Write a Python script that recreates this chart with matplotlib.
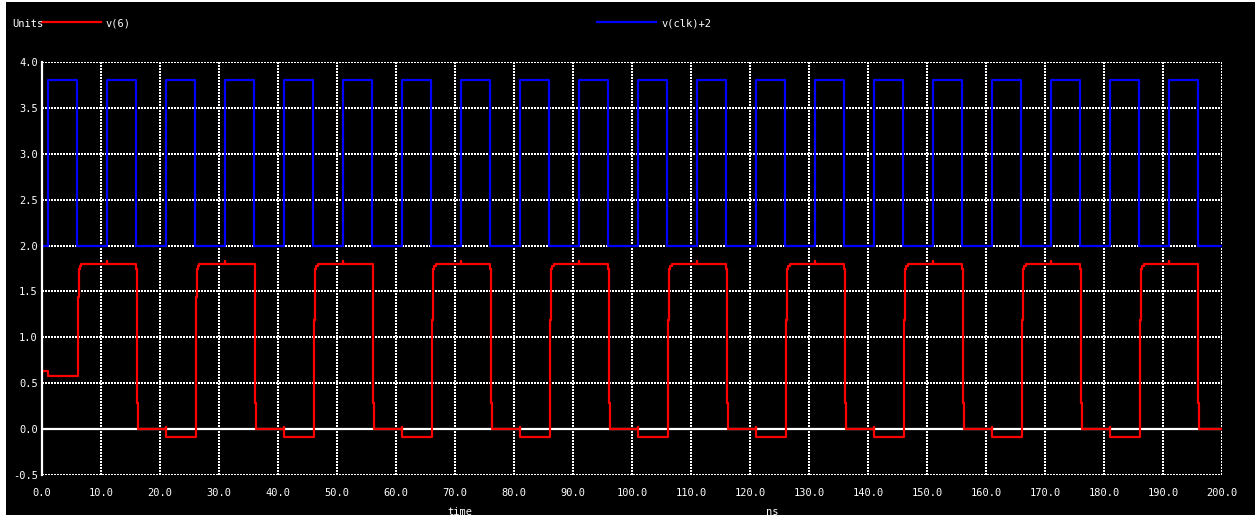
import matplotlib
matplotlib.use('Agg')
import matplotlib.pyplot as plt
from matplotlib.lines import Line2D
from matplotlib.patches import Rectangle

# clock v(clk)+2 : edge times in ns
clk_rise = [1, 11, 21, 31, 41, 51, 61, 71, 81, 91,
            101, 111, 121, 131, 141, 151, 161, 171, 181, 191]
clk_fall = [6, 16, 26, 36, 46, 56, 66, 76, 86, 96,
            106, 116, 126, 136, 146, 156, 166, 176, 186, 196]
clk_lo, clk_hi = 2.0, 3.8

# v(6) : divided output, edge times in ns
v6_rise = [6.05, 26.05, 46.1, 66.1, 86.1, 106.1, 126.1, 146.1, 166.1, 186.1]
v6_fall = [16.0, 36.05, 56.05, 76.0, 96.0, 116.0, 136.0, 156.0, 176.0, 195.9]
v6_start = [0.63, 0.58]
v6_hi = 1.80
v6_lo = [0.0, -0.09]
# shape of the edges (offset ns, value)
rise_dt = [0.0, 0.1, 0.2, 0.25, 0.35, 0.6]
rise_v = [1.19, 1.44, 1.62, 1.74, 1.78, 1.80]
fall_dt = [0.0, 0.05, 0.2]
fall_v = [1.75, 0.28, 0.0]

t_end = 200.0
xticks = [0, 10, 20, 30, 40, 50, 60, 70, 80, 90, 100,
          110, 120, 130, 140, 150, 160, 170, 180, 190, 200]
yticks = [-0.5, 0.0, 0.5, 1.0, 1.5, 2.0, 2.5, 3.0, 3.5, 4.0]

# build step waveforms
clk_ev = [(0.0, clk_lo)] + [(t, clk_hi) for t in clk_rise] + [(t, clk_lo) for t in clk_fall]
clk_ev.sort()
clk_ev.append((t_end, clk_ev[-1][1]))

v6_ev = [(0.0, v6_start[0]), (clk_rise[0], v6_start[1])]
for r in v6_rise:
    v6_ev += [(r + d, v) for d, v in zip(rise_dt, rise_v)]
for f in v6_fall:
    v6_ev += [(f + d, v) for d, v in zip(fall_dt, fall_v)]
edges = sorted([(t, 1) for t in v6_rise] + [(t, 0) for t in v6_fall])
for c in clk_rise[1:]:
    prev = [s for t, s in edges if t < c]
    if prev and prev[-1] == 1:
        v6_ev += [(c, 1.83), (c + 0.08, v6_hi)]
    elif prev:
        v6_ev += [(c, 0.02), (c + 0.05, v6_lo[1])]
v6_ev.sort()
v6_ev.append((t_end, v6_ev[-1][1]))

W, H = 1255, 515
fig = plt.figure(figsize=(W / 100, H / 100), dpi=100, facecolor='black')
ax = fig.add_axes([42 / W, 1 - 475 / H, 1180 / W, 413 / H], facecolor='black')

mono = 'DejaVu Sans Mono'
dot = dict(color='white', lw=1.1, linestyle=(0, (1.0, 1.2)),
           antialiased=False, zorder=1)
for y in yticks:
    if y == 0.0:
        ax.axhline(y, color='white', lw=1.6, zorder=2)
    else:
        ax.axhline(y, **dot)
for x in xticks[1:]:
    ax.axvline(x, **dot)

ax.plot([t for t, v in clk_ev], [v for t, v in clk_ev], color='#0000ff',
        lw=1.6, drawstyle='steps-post', zorder=3)
ax.plot([t for t, v in v6_ev], [v for t, v in v6_ev], color='#ff0000',
        lw=1.6, drawstyle='steps-post', zorder=4)

ax.set_xlim(0, 200)
ax.set_ylim(-0.5, 4.0)
for s in ['top', 'right', 'bottom']:
    ax.spines[s].set_visible(False)
ax.spines['left'].set_color('white')
ax.spines['left'].set_linewidth(1.6)
ax.spines['left'].set_zorder(5)

ax.set_xticks(xticks, ['%.1f' % x for x in xticks])
ax.set_yticks(yticks, ['%.1f' % y for y in yticks])
ax.tick_params(axis='x', length=0, pad=9, colors='white', labelsize=7.5)
ax.tick_params(axis='y', length=0, pad=3, colors='white', labelsize=7.5)
for lab in ax.get_xticklabels() + ax.get_yticklabels():
    lab.set_fontfamily(mono)

# legend / header
def ftxt(x, y, s):
    fig.text(x / W, 1 - y / H, s, color='white', fontsize=7.5,
             family=mono, va='center', ha='left')

ftxt(12, 24, 'Units')
ftxt(106, 23, 'v(6)')
ftxt(661, 23, 'v(clk)+2')
fig.add_artist(Line2D([42 / W, 101 / W], [1 - 22 / H] * 2, color='#ff0000', lw=1.6))
fig.add_artist(Line2D([597 / W, 656 / W], [1 - 22 / H] * 2, color='#0000ff', lw=1.6))

# axis names at the bottom edge
fig.text(460 / W, 1 - 512 / H, 'time', color='white', fontsize=7.5,
         family=mono, va='center', ha='center')
fig.text(772 / W, 1 - 512 / H, 'ns', color='white', fontsize=7.5,
         family=mono, va='center', ha='center')

# white frame strip on the left and top
fig.add_artist(Rectangle((0, 0), 6 / W, 1, transform=fig.transFigure,
                         facecolor='white', edgecolor='none'))
fig.add_artist(Rectangle((0, 1 - 1.5 / H), 1, 1.5 / H, transform=fig.transFigure,
                         facecolor='white', edgecolor='none'))

fig.savefig('out.png', dpi=100, facecolor='black')
